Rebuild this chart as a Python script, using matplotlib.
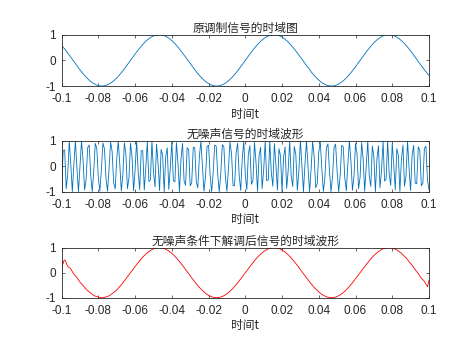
import numpy as np
import matplotlib
matplotlib.use("Agg")
import matplotlib.pyplot as plt

plt.rcParams['font.family'] = ['Liberation Sans', 'Noto Sans CJK SC']

# ---- signal parameters ----
t_range = [-0.1, 0.1]
msg_freq = 16.0          # Hz, message sine (peaks at -0.047, 0.016, 0.079)
msg_amp = 1.0
carrier_freq = 310.0     # Hz, FM carrier
freq_dev = 70.0          # Hz, peak frequency deviation
sample_rate = 1200.0     # Hz, sampling of the FM trace
demod_rate = 20000.0     # Hz, dense grid used for the demodulation

titles = ['原调制信号的时域图', '无噪声信号的时域波形', '无噪声条件下解调后信号的时域波形']
xlabel = '时间t'
xticks = [-0.1, -0.08, -0.06, -0.04, -0.02, 0, 0.02, 0.04, 0.06, 0.08, 0.1]
xticklabels = ['-0.1', '-0.08', '-0.06', '-0.04', '-0.02', '0', '0.02', '0.04', '0.06', '0.08', '0.1']
yticks = [-1, 0, 1]
yticklabels = ['-1', '0', '1']

# ---- signals ----
t_msg = np.linspace(t_range[0], t_range[1], 2001)
m = msg_amp * np.sin(2 * np.pi * msg_freq * t_msg)

def fm(t):
    return np.cos(2 * np.pi * carrier_freq * t
                  - (freq_dev / msg_freq) * np.cos(2 * np.pi * msg_freq * t))

t_fm = np.arange(t_range[0], t_range[1] + 0.5 / sample_rate, 1 / sample_rate)
s_fm = fm(t_fm)

# demodulation: analytic signal via FFT, instantaneous frequency
t_d = np.arange(t_range[0], t_range[1] + 0.5 / demod_rate, 1 / demod_rate)
s_d = fm(t_d)
N = len(s_d)
X = np.fft.fft(s_d)
h = np.zeros(N)
h[0] = 1
if N % 2 == 0:
    h[N // 2] = 1
    h[1:N // 2] = 2
else:
    h[1:(N + 1) // 2] = 2
z = np.fft.ifft(X * h)
ph = np.unwrap(np.angle(z))
f_inst = np.gradient(ph) * demod_rate / (2 * np.pi)
demod = (f_inst - carrier_freq) / freq_dev
k = 31
demod = np.convolve(demod, np.ones(k) / k, mode='same')
demod[0] = 0.0

fig = plt.figure(figsize=(4.74, 3.55), dpi=100)
positions = [[0.130, 0.7577, 0.775, 0.1445],
             [0.130, 0.4600, 0.775, 0.1437],
             [0.130, 0.1614, 0.775, 0.1410]]
series = [(t_msg, m, '#0072BD'), (t_fm, s_fm, '#0072BD'), (t_d, demod, '#FF0000')]

for pos, (tx, y, c), title in zip(positions, series, titles):
    ax = fig.add_axes(pos)
    ax.plot(tx, y, color=c, lw=0.6)
    ax.set_xlim(t_range)
    ax.set_ylim(-1, 1)
    ax.set_xticks(xticks)
    ax.set_xticklabels(xticklabels)
    ax.set_yticks(yticks)
    ax.set_yticklabels(yticklabels)
    ax.tick_params(direction='in', length=2.5, width=0.5, colors='#262626',
                   labelsize=8.5, top=True, right=True)
    ax.tick_params(axis='x', labeltop=False, pad=5)
    ax.tick_params(axis='y', pad=4)
    for sp in ax.spines.values():
        sp.set_color('#262626')
        sp.set_linewidth(0.6)
    ax.set_title(title, fontsize=8.5, color='#262626', pad=2,
                 family=['Noto Sans CJK SC', 'Liberation Sans'])
    ax.set_xlabel(xlabel, fontsize=8.5, color='#262626', labelpad=2,
                  family=['Noto Sans CJK SC', 'Liberation Sans'])

fig.savefig('out.png', dpi=100, facecolor='white')
